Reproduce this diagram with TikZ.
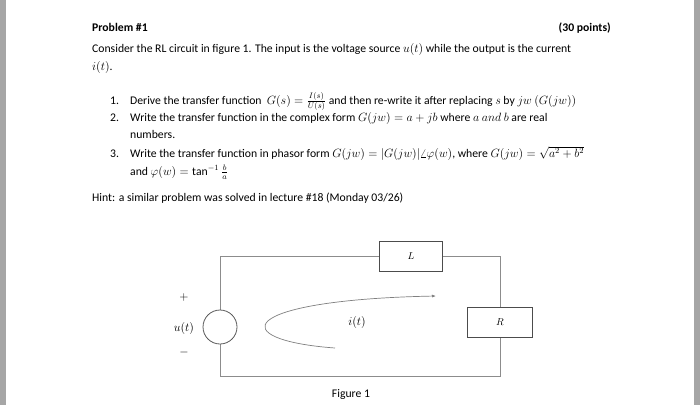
\documentclass[tikz,border=0pt]{standalone}
\usepackage{fontspec}
\setmainfont{Carlito}
\usepackage{amsmath}
\usetikzlibrary{arrows.meta}
\begin{document}
\begin{tikzpicture}[x=1pt,y=-1pt,
  txt/.style={anchor=base west,inner sep=0pt,font=\fontsize{11.7}{14}\selectfont},
  wire/.style={draw=black!45,line width=0.8pt},
  comp/.style={draw=black!70,line width=0.8pt,fill=white,minimum width=63pt,minimum height=30pt,inner sep=0pt}]
\useasboundingbox (0,0) rectangle (700,405);
\fill[white] (0,0) rectangle (700,405);
\fill[black!35] (0,0) rectangle (6,405);
\fill[black!35] (694,0) rectangle (700,405);
\node[txt,font=\bfseries\fontsize{11.7}{14}\selectfont] (p) at (92,31) {Problem \#1};
\node[txt,font=\bfseries\fontsize{11.7}{14}\selectfont,anchor=base east] (pts) at (611,31) {(30 points)};
\node[txt] (l1) at (92,52) {Consider the RL circuit in figure 1. The input is the voltage source $u(t)$ while the output is the current};
\node[txt] (l2) at (92,70) {$i(t)$.};
\node[txt] (n1) at (110,104) {1.};
\node[txt] (t1) at (130,104) {Derive the transfer function \ $G(s)=\frac{I(s)}{U(s)}$ and then re-write it after replacing $s$ by $jw$ $(G(jw))$};
\node[txt] (n2) at (110,121) {2.};
\node[txt] (t2) at (130,121) {Write the transfer function in the complex form $G(jw)=a+jb$ where $a$ $and$ $b$ are real};
\node[txt] (t2b) at (130,138) {numbers.};
\node[txt] (n3) at (110,157) {3.};
\node[txt] (t3) at (130,157) {Write the transfer function in phasor form $G(jw)=|G(jw)|\angle\varphi(w)$, where $G(jw)=\sqrt{a^2+b^2}$};
\node[txt] (t3b) at (130,175) {and $\varphi(w)=\tan^{-1}\frac{b}{a}$};
\node[txt] (h) at (92,201) {Hint: a similar problem was solved in lecture \#18 (Monday 03/26)};
% circuit
\coordinate (tl) at (220,256);
\coordinate (tr) at (500,256);
\coordinate (br) at (500,376);
\coordinate (bl) at (220,376);
\draw[wire] (tl) -- (tr) -- (br) -- (bl) -- cycle;
\node[comp] (L) at (411,256) {$L$};
\node[comp,minimum width=65pt] (R) at (500,322) {$R$};
\node[draw=black!65,line width=0.8pt,fill=white,circle,minimum size=34pt,inner sep=0pt] (src) at (220,327) {};
\node[txt,anchor=center] (plus) at (184,297) {$+$};
\node[txt,anchor=center] (u) at (184,328) {$u(t)$};
\node[txt,anchor=center] (minus) at (184,352) {$-$};
\node[txt,anchor=center] (i) at (357,322) {$i(t)$};
\coordinate (a0) at (335,348);
\coordinate (a1) at (436,296);
\draw[black!50,line width=0.7pt,-{Latex[length=4pt,width=3pt]}] (a0) .. controls (225,340) and (235,300) .. (a1);
\node[txt,anchor=center] (fig) at (351,394) {Figure 1};
\end{tikzpicture}
\end{document}
